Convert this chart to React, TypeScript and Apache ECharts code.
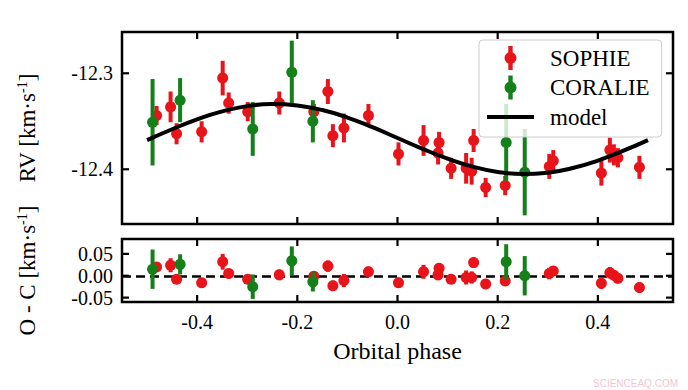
import React, { useEffect, useRef } from "react";
import * as echarts from "echarts";

// ---- data ----
const sophiePhase = [-0.481, -0.453, -0.441, -0.391, -0.349, -0.337, -0.299, -0.236, -0.167, -0.139, -0.129, -0.107, -0.058, 0.002, 0.052, 0.081, 0.083, 0.107, 0.137, 0.148, 0.152, 0.176, 0.215, 0.303, 0.311, 0.407, 0.424, 0.432, 0.44, 0.483];
const sophieRV = [-12.344, -12.335, -12.363, -12.361, -12.305, -12.331, -12.34, -12.331, -12.34, -12.319, -12.365, -12.357, -12.344, -12.384, -12.37, -12.383, -12.372, -12.399, -12.399, -12.402, -12.37, -12.419, -12.417, -12.397, -12.391, -12.404, -12.38, -12.385, -12.388, -12.398];
const sophieErr = [0.01, 0.016, 0.011, 0.011, 0.018, 0.011, 0.01, 0.012, 0.008, 0.013, 0.012, 0.015, 0.012, 0.012, 0.016, 0.012, 0.011, 0.011, 0.016, 0.014, 0.012, 0.01, 0.01, 0.013, 0.011, 0.013, 0.013, 0.011, 0.01, 0.012];
const sophieRes = [0.02, 0.024, -0.008, -0.016, 0.032, 0.005, -0.008, 0.002, -0.001, 0.022, -0.023, -0.011, 0.009, -0.016, 0.009, 0.002, 0.017, -0.008, -0.004, -0.004, 0.03, -0.019, -0.012, 0.005, 0.011, -0.017, 0.007, 0.001, -0.006, -0.027];

const coraliePhase = [-0.489, -0.434, -0.289, -0.211, -0.169, 0.217, 0.254];
const coralieRV = [-12.351, -12.328, -12.358, -12.299, -12.35, -12.372, -12.403];
const coralieErr = [0.045, 0.023, 0.028, 0.033, 0.022, 0.04, 0.045];
const coralieRes = [0.015, 0.026, -0.025, 0.034, -0.014, 0.032, 0.0];

const modelPhase = [-0.5, -0.45, -0.4, -0.35, -0.3, -0.25, -0.2, -0.15, -0.1, -0.05, 0.0, 0.05, 0.1, 0.15, 0.2, 0.25, 0.3, 0.35, 0.4, 0.45, 0.5];
const modelRV = [-12.3697, -12.3583, -12.348, -12.3397, -12.3342, -12.332, -12.3335, -12.3383, -12.3461, -12.3561, -12.3674, -12.3787, -12.389, -12.3973, -12.4028, -12.405, -12.4035, -12.3987, -12.3909, -12.3809, -12.3696];

const xTicks = [-0.4, -0.2, 0.0, 0.2, 0.4];
const xTickLabels = ["-0.4", "-0.2", "0.0", "0.2", "0.4"];
const rvTicks = [-12.4, -12.3];
const rvTickLabels = ["-12.4", "-12.3"];
const resTicks = [-0.05, 0.0, 0.05];
const resTickLabels = ["-0.05", "0.00", "0.05"];

const RED = "#e8141a";
const GREEN = "#13801a";
const FONT = '"Liberation Serif", "Times New Roman", serif';
const TICK_LEN = 7;

const pick = (ticks: number[], labels: string[]) => (v: number) => {
  const i = ticks.findIndex((t) => Math.abs(t - v) < 1e-9);
  return i >= 0 ? labels[i] : "";
};

const errRender = (color: string, r: number, w: number) => (params: any, api: any) => {
  const x = api.value(0);
  const y = api.value(1);
  const e = api.value(2);
  const p = api.coord([x, y]);
  const hi = api.coord([x, y + e]);
  const lo = api.coord([x, y - e]);
  return {
    type: "group",
    children: [
      { type: "line", shape: { x1: p[0], y1: hi[1], x2: p[0], y2: lo[1] }, style: { stroke: color, lineWidth: w } },
      { type: "circle", shape: { cx: p[0], cy: p[1], r }, style: { fill: color } },
    ],
  };
};

// tick marks on all four sides, placed through the axes' own scales
const tickRender = (dir: "x" | "y") => (params: any, api: any) => {
  const cs = params.coordSys;
  const p = api.coord([api.value(0), api.value(1)]);
  const st = { stroke: "#000", lineWidth: 2.2 };
  if (dir === "x") {
    return {
      type: "group",
      children: [
        { type: "line", shape: { x1: p[0], y1: cs.y, x2: p[0], y2: cs.y + TICK_LEN }, style: st },
        { type: "line", shape: { x1: p[0], y1: cs.y + cs.height - TICK_LEN, x2: p[0], y2: cs.y + cs.height }, style: st },
      ],
    };
  }
  return {
    type: "group",
    children: [
      { type: "line", shape: { x1: cs.x, y1: p[1], x2: cs.x + TICK_LEN, y2: p[1] }, style: st },
      { type: "line", shape: { x1: cs.x + cs.width - TICK_LEN, y1: p[1], x2: cs.x + cs.width, y2: p[1] }, style: st },
    ],
  };
};

const sophieIcon = "path://M3.5,0H7.5V22H3.5Z M5.5,5.5A5.5,5.5 0 1 1 5.5,16.5A5.5,5.5 0 1 1 5.5,5.5Z";
const modelIcon = "path://M0,0H47V4H0Z";

export default function App() {
  const ref = useRef<HTMLDivElement>(null);
  useEffect(() => {
    document.body.style.margin = "0";
    const chart = echarts.init(ref.current!, null, { renderer: "svg" });
    const labelStyle = { color: "#000", fontSize: 20, fontFamily: FONT };
    const xBase = (grid: number, labels: boolean) => ({
      type: "value",
      gridIndex: grid,
      position: "bottom",
      min: -0.55,
      max: 0.55,
      axisLine: { show: false, onZero: false },
      splitLine: { show: false },
      axisTick: { show: false },
      axisLabel: labels
        ? { ...labelStyle, margin: 10, customValues: xTicks, formatter: pick(xTicks, xTickLabels) }
        : { show: false },
    });
    const yBase = (grid: number, min: number, max: number, ticks: number[], labels: string[]) => ({
      type: "value",
      gridIndex: grid,
      position: "left",
      min,
      max,
      axisLine: { show: false, onZero: false },
      splitLine: { show: false },
      axisTick: { show: false },
      axisLabel: { ...labelStyle, margin: 9, customValues: ticks, formatter: pick(ticks, labels) },
    });
    const nameStyle = {
      color: "#000",
      fontFamily: FONT,
      fontSize: 23,
      rich: {
        a: { color: "#000", fontFamily: FONT, fontSize: 23, lineHeight: 24 },
        s: { color: "#000", fontFamily: FONT, fontSize: 14, verticalAlign: "top" },
      },
    };
    const toData = (ph: number[], v: number[], e: number[]) => ph.map((p, i) => [p, v[i], e[i]]);
    const tickSeries = (axis: number, dir: "x" | "y", data: number[][]) => ({
      type: "custom",
      xAxisIndex: axis,
      yAxisIndex: axis,
      silent: true,
      clip: false,
      z: 6,
      renderItem: tickRender(dir),
      data,
    });

    chart.setOption({
      animation: false,
      backgroundColor: "#fff",
      grid: [
        { left: 122, top: 32, width: 551, height: 192, show: true, borderColor: "#000", borderWidth: 2.5, backgroundColor: "transparent" },
        { left: 122, top: 239, width: 551, height: 63, show: true, borderColor: "#000", borderWidth: 2.5, backgroundColor: "transparent" },
      ],
      xAxis: [
        xBase(0, false),
        {
          ...xBase(1, true),
          name: "Orbital phase",
          nameLocation: "middle",
          nameGap: 37,
          nameTextStyle: { color: "#000", fontFamily: FONT, fontSize: 24 },
        },
      ],
      yAxis: [
        {
          ...yBase(0, -12.457, -12.257, rvTicks, rvTickLabels),
          name: "{a|RV [km·s}{s|-1}{a|]}",
          nameLocation: "middle",
          nameRotate: 90,
          nameGap: 83,
          nameTextStyle: nameStyle,
        },
        {
          ...yBase(1, -0.06, 0.084, resTicks, resTickLabels),
          name: "{a|O - C [km·s}{s|-1}{a|]}",
          nameLocation: "middle",
          nameRotate: 90,
          nameGap: 83,
          nameTextStyle: nameStyle,
        },
      ],
      legend: {
        orient: "vertical",
        left: 479,
        top: 40,
        z: 10,
        selectedMode: false,
        itemWidth: 47,
        itemHeight: 24,
        itemGap: 5.5,
        padding: [6, 12, 8, 8],
        backgroundColor: "rgba(255,255,255,0.8)",
        borderColor: "#cccccc",
        borderWidth: 1,
        borderRadius: 4,
        symbolKeepAspect: true,
        textStyle: { color: "#000", fontFamily: FONT, fontSize: 23, lineHeight: 24, padding: [0, 0, 0, 11] },
        data: [
          { name: "SOPHIE", icon: sophieIcon, itemStyle: { color: RED, borderWidth: 0 } },
          { name: "CORALIE", icon: sophieIcon, itemStyle: { color: GREEN, borderWidth: 0 } },
          { name: "model", icon: modelIcon, itemStyle: { color: "#000", borderWidth: 0 } },
        ],
      },
      series: [
        {
          name: "SOPHIE",
          type: "custom",
          xAxisIndex: 0,
          yAxisIndex: 0,
          z: 2,
          itemStyle: { color: RED },
          encode: { x: 0, y: 1 },
          renderItem: errRender(RED, 5.5, 4),
          data: toData(sophiePhase, sophieRV, sophieErr),
        },
        {
          name: "CORALIE",
          type: "custom",
          xAxisIndex: 0,
          yAxisIndex: 0,
          z: 3,
          itemStyle: { color: GREEN },
          encode: { x: 0, y: 1 },
          renderItem: errRender(GREEN, 5.5, 4),
          data: toData(coraliePhase, coralieRV, coralieErr),
        },
        {
          name: "model",
          type: "line",
          xAxisIndex: 0,
          yAxisIndex: 0,
          z: 4,
          smooth: true,
          showSymbol: false,
          symbol: "none",
          itemStyle: { color: "#000" },
          lineStyle: { color: "#000", width: 4 },
          data: modelPhase.map((p, i) => [p, modelRV[i]]),
        },
        {
          name: "SOPHIE",
          type: "custom",
          xAxisIndex: 1,
          yAxisIndex: 1,
          z: 2,
          itemStyle: { color: RED },
          encode: { x: 0, y: 1 },
          renderItem: errRender(RED, 5.5, 4),
          data: toData(sophiePhase, sophieRes, sophieErr),
          markLine: {
            silent: true,
            z: 1,
            symbol: ["none", "none"],
            label: { show: false },
            lineStyle: { color: "#000", type: [9, 5], width: 2.5 },
            data: [{ yAxis: 0 }],
          },
        },
        {
          name: "CORALIE",
          type: "custom",
          xAxisIndex: 1,
          yAxisIndex: 1,
          z: 3,
          itemStyle: { color: GREEN },
          encode: { x: 0, y: 1 },
          renderItem: errRender(GREEN, 5.5, 4),
          data: toData(coraliePhase, coralieRes, coralieErr),
        },
        tickSeries(0, "x", xTicks.map((v) => [v, rvTicks[0]])),
        tickSeries(0, "y", rvTicks.map((v) => [xTicks[2], v])),
        tickSeries(1, "x", xTicks.map((v) => [v, resTicks[1]])),
        tickSeries(1, "y", resTicks.map((v) => [xTicks[2], v])),
      ],
      graphic: [
        {
          type: "text",
          right: 10,
          bottom: 2,
          style: { text: "SCIENCEAQ.COM", fill: "#f0c6cf", font: '10px "Liberation Sans", sans-serif' },
        },
      ],
    });
    return () => chart.dispose();
  }, []);
  return <div ref={ref} style={{ position: "absolute", left: 0, top: 0, width: 688, height: 390 }} />;
}
